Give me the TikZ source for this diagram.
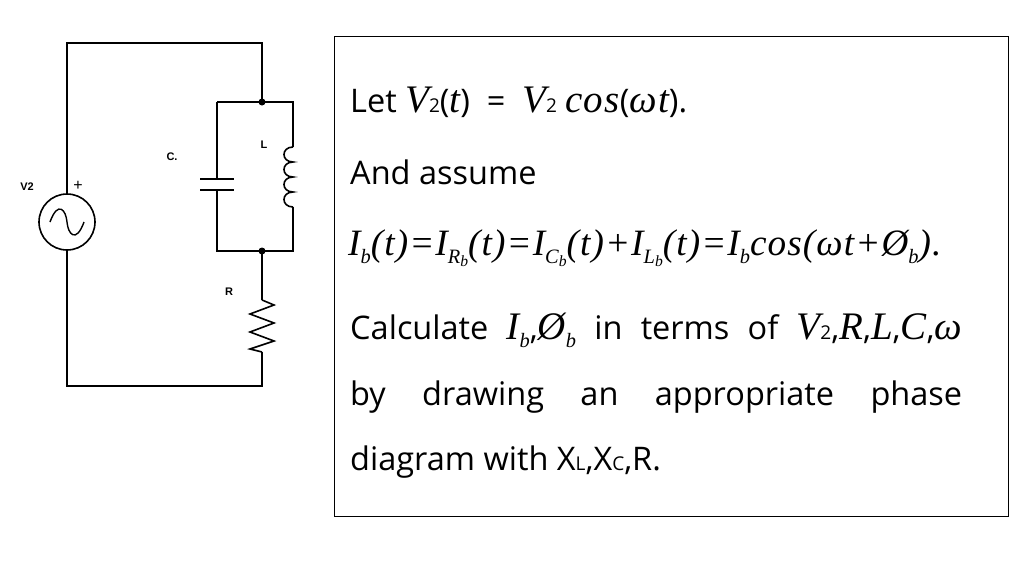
\documentclass[tikz,border=0pt]{standalone}
\usepackage{fontspec}
\setmainfont{Open Sans}
\newfontfamily\mf{Liberation Serif}[ItalicFont={Liberation Serif Italic},Scale=1.2,LetterSpace=3]
\newfontfamily\lab{Liberation Sans}[BoldFont={Liberation Sans Bold}]
\newcommand{\mi}[1]{{\mf\itshape #1}}
\newcommand{\sbx}[1]{\raisebox{-0.22em}{\fontsize{17}{18}\selectfont #1}}
\newcommand{\ssbx}[1]{\raisebox{-0.18em}{\fontsize{13}{14}\selectfont #1}}
\newcommand{\smn}[1]{{\fontsize{19}{20}\selectfont #1}}
\tikzset{wire/.style={line width=1.6pt,line join=miter},
  lbl/.style={font=\lab\bfseries\fontsize{11}{12}\selectfont,inner sep=0},
  txt/.style={anchor=base west,inner sep=0,font=\fontsize{32.5}{36}\selectfont}}
\begin{document}
\begin{tikzpicture}[x=1pt,y=-1pt]
\useasboundingbox (0,0) rectangle (1034,560);
% circuit
\coordinate (tl) at (67,43); \coordinate (tr) at (262,43);
\coordinate (n1) at (262,102); \coordinate (n2) at (262,251);
\coordinate (bl) at (67,386); \coordinate (br) at (262,386);
\node[circle,draw,line width=1.6pt,minimum size=56pt,inner sep=0] (src) at (67,222) {};
\draw[wire] (src.north) -- (tl) -- (tr) -- (n1);
\draw[wire] (src.south) -- (bl) -- (br) -- (262,352);
\draw[wire] (n2) -- (262,300);
\draw[wire] (262,300) -- (274,305) -- (250,314) -- (274,323) -- (250,332) -- (274,341) -- (250,349) -- (262,352);
\draw[wire] (217,102) -- (293,102) -- (293,147);
\draw[wire] (217,102) -- (217,179) (217,190) -- (217,251) -- (293,251) -- (293,207);
\draw[wire] (200,179) -- (234,179) (200,190) -- (234,190);
\draw[wire] (293,147) .. controls (281,147) and (281,162) .. (293,162)
  .. controls (281,162) and (281,177) .. (293,177)
  .. controls (281,177) and (281,192) .. (293,192)
  .. controls (281,192) and (281,207) .. (293,207);
\fill (n1) circle (3.5); \fill (n2) circle (3.5);
\draw[line width=1.4pt] (50,222) .. controls (58,200) and (66,210) .. (67,222) .. controls (68,234) and (76,244) .. (84,222);
\node[lbl] (lv) at (27,187) {V2};
\node[lbl,font=\lab\fontsize{16}{16}\selectfont] (lp) at (78,186) {+};
\node[lbl] (lc) at (172,157) {C.};
\node[lbl] (ll) at (264,145) {L};
\node[lbl] (lr) at (229,292) {R};
% text box
\node[draw,line width=0.8pt,minimum width=674pt,minimum height=480pt,anchor=north west,inner sep=0] (box) at (334,36) {};
\node[txt] (t1) at (350,112) {Let \mi{V}\smn{2}(\mi{t}) \ = \ \mi{V}\smn{2} \mi{cos}(\mi{ωt}).};
\node[txt] (t2) at (350,184) {And assume};
\node[txt,font=\mf\itshape\fontsize{31}{36}\selectfont] (t3) at (348,255) {I\sbx{b}(t)=I\sbx{R\ssbx{b}}(t)=I\sbx{C\ssbx{b}}(t)+I\sbx{L\ssbx{b}}(t)=I\sbx{b}cos(ωt+Ø\sbx{b}).};
\node[txt] (t4) at (350,339) {\makebox[612pt][s]{Calculate \mi{I\sbx{b}},\mi{Ø\sbx{b}} in terms of \mi{V}\smn{2},\mi{R},\mi{L},\mi{C},\mi{ω}}};
\node[txt] (t5) at (350,405) {\makebox[612pt][s]{by drawing an appropriate phase}};
\node[txt] (t6) at (350,470) {diagram with X\smn{L},X\smn{C},R.};
\end{tikzpicture}
\end{document}
